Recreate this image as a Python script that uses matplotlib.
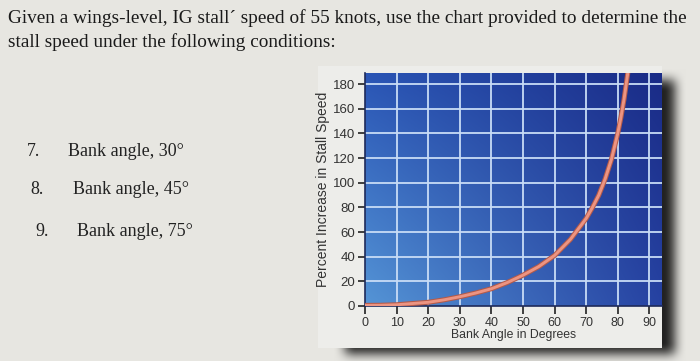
import matplotlib
matplotlib.use("Agg")
import matplotlib.pyplot as plt
import numpy as np

# ---- data ----
bank_angle = [0, 5, 10, 15, 20, 25, 30, 35, 40, 45, 50, 55, 60, 65, 70, 72, 74, 76, 78, 80, 81, 82, 83, 83.4]
pct_increase = [0.5, 0.6, 1, 2, 3, 5, 7.5, 10.5, 14, 19, 25, 32, 41, 54, 71, 80, 90, 103, 119, 140, 153, 168, 186, 193]
x_ticks = [0, 10, 20, 30, 40, 50, 60, 70, 80, 90]
y_ticks = [0, 20, 40, 60, 80, 100, 120, 140, 160, 180]

header_lines = ["Given a wings-level, IG stall\u02ca speed of 55 knots, use the chart provided to determine the",
                "stall speed under the following conditions:"]
item_nums = ["7.", "8.", "9."]
item_texts = ["Bank angle, 30\u00b0", "Bank angle, 45\u00b0", "Bank angle, 75\u00b0"]

W, H = 700, 361
fig = plt.figure(figsize=(7, 3.61), dpi=100)

def fx(px): return px / W
def fy(py): return 1 - py / H

# ---- page background with card and soft shadow (decoration) ----
bg = fig.add_axes([0, 0, 1, 1], zorder=0)
bg.set_axis_off()
page = np.ones((H, W, 3)) * np.array([0xe7, 0xe6, 0xe1]) / 255
yy, xx = np.mgrid[0:H, 0:W]
mask = ((xx >= 345) & (xx <= 674) & (yy >= 80) & (yy <= 353)).astype(float)
def blur(a, r):
    k = np.ones(2*r+1) / (2*r+1)
    a = np.apply_along_axis(lambda m: np.convolve(m, k, mode="same"), 0, a)
    a = np.apply_along_axis(lambda m: np.convolve(m, k, mode="same"), 1, a)
    return a
sh = blur(blur(mask, 6), 5)
page = page * (1 - 0.85 * sh[..., None])
card = (xx >= 318) & (xx <= 661) & (yy >= 66) & (yy <= 347)
page[card] = np.array([0xed, 0xed, 0xea]) / 255
bg.imshow(page, extent=[0, 1, 0, 1], aspect="auto", origin="upper", interpolation="bilinear")
bg.set_xlim(0, 1); bg.set_ylim(0, 1)

# header text
fig.text(fx(8), fy(18), header_lines[0], family="Liberation Serif", fontsize=13.9, color="#1a1a1a", va="center", zorder=5)
fig.text(fx(8), fy(42), header_lines[1], family="Liberation Serif", fontsize=13.9, color="#1a1a1a", va="center", zorder=5)
num_x = [27, 30, 35]
txt_x = [68, 73, 77]
row_y = [152, 190, 231]
for n, t, nx, tx, ry in zip(item_nums, item_texts, num_x, txt_x, row_y):
    fig.text(fx(nx), fy(ry), n, family="Liberation Serif", fontsize=13, color="#222222", va="center", zorder=5)
    fig.text(fx(tx), fy(ry), t, family="Liberation Serif", fontsize=13, color="#222222", va="center", zorder=5)

# chart axes
ax = fig.add_axes([fx(365), fy(306), fx(662 - 365), fy(73) - fy(306)], zorder=2)
ax.set_xlim(0, 94)
ax.set_ylim(0, 189)

# gradient background of plot area
c_bl = np.array([0x55, 0x95, 0xd6]) / 255
c_tl = np.array([0x2a, 0x55, 0xb5]) / 255
c_br = np.array([0x26, 0x42, 0xa2]) / 255
c_tr = np.array([0x1a, 0x2b, 0x86]) / 255
u = np.linspace(0, 1, 200)[None, :, None]
v = np.linspace(0, 1, 200)[:, None, None]
img = (1-u)*(1-v)*c_bl + u*(1-v)*c_br + (1-u)*v*c_tl + u*v*c_tr
ax.imshow(img, origin="lower", extent=[0, 1, 0, 1], transform=ax.transAxes, aspect="auto", zorder=0)

for gx in range(10, 91, 10):
    ax.axvline(gx, color="#c8dcf6", lw=1.3, zorder=1)
for gy in range(20, 181, 20):
    ax.axhline(gy, color="#c8dcf6", lw=1.3, zorder=1)

ax.plot(bank_angle, pct_increase, color="#b55a48", lw=3.6, zorder=3, solid_capstyle="butt")
ax.plot(bank_angle, pct_increase, color="#ec9482", lw=2.1, zorder=4, solid_capstyle="butt")

ax.set_xticks(x_ticks)
ax.set_yticks(y_ticks)
ax.tick_params(axis="both", colors="#222222", length=5, width=1.2, labelcolor="#333333", pad=2)
ax.tick_params(axis="x", length=6)
for lab in ax.get_xticklabels():
    lab.set_fontfamily("Liberation Sans"); lab.set_fontsize(9)
for lab in ax.get_yticklabels():
    lab.set_fontfamily("Liberation Sans"); lab.set_fontsize(9.5)
for s in ["top", "right"]:
    ax.spines[s].set_visible(False)
for s in ["left", "bottom"]:
    ax.spines[s].set_color("#1e2a5a")
    ax.spines[s].set_linewidth(1.2)
ax.set_ylabel("Percent Increase in Stall Speed", family="Liberation Sans", fontsize=10, color="#333333", labelpad=2)
ax.set_xlabel("Bank Angle in Degrees", family="Liberation Sans", fontsize=8.8, color="#333333", labelpad=0)

fig.savefig("out.png", dpi=100)
